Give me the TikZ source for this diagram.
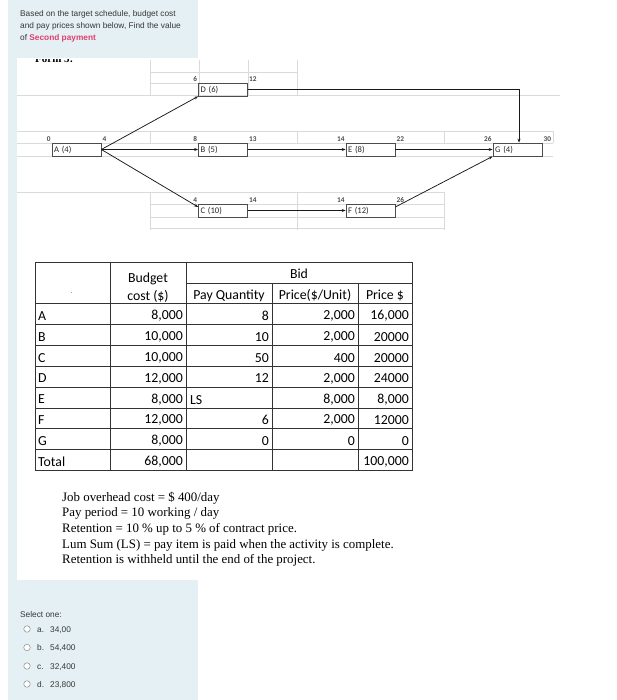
\documentclass[tikz,border=0pt]{standalone}
\usepackage{fontspec}
\setmainfont{Liberation Sans}
\newfontfamily\calib{Carlito}
\newfontfamily\tnr{Liberation Serif}
\usetikzlibrary{arrows.meta,calc}
\definecolor{panel}{RGB}{228,240,243}
\definecolor{qpink}{RGB}{226,62,112}
\definecolor{gridc}{RGB}{218,218,218}
\definecolor{uitext}{RGB}{55,55,55}
\tikzset{
  act/.style={draw=black!70, line width=0.7pt, text width=45pt, inner sep=2pt, minimum height=13pt, align=left, font=\calib\fontsize{8.6}{9}\selectfont, text=black!85},
  num/.style={inner sep=1pt, font=\calib\bfseries\fontsize{7.3}{8}\selectfont, text=black!70},
  link/.style={line width=0.75pt, black!90, -{Stealth[length=4pt,width=3pt]}},
  gline/.style={gridc, line width=0.5pt},
  tline/.style={black!80, line width=0.8pt},
  tcell/.style={inner sep=0pt, font=\calib\fontsize{13.8}{15}\selectfont},
  note/.style={anchor=base west, inner sep=0pt, font=\tnr\fontsize{12.9}{15}\selectfont},
  ui/.style={anchor=base west, inner sep=0pt, font=\fontsize{8.3}{10}\selectfont, text=uitext},
  opt/.style={anchor=base west, inner sep=0pt, font=\fontsize{8.3}{10}\selectfont, text=uitext},
  radio/.style={draw=black!45, line width=0.5pt, fill=white, circle, minimum size=6.5pt, inner sep=0pt}
}
\begin{document}
\begin{tikzpicture}[x=1pt,y={(0pt,-1pt)}]
\useasboundingbox (0,0) rectangle (616,700);
% panel
\fill[panel] (8,0) rectangle (198,700);
\fill[white] (17,58) rectangle (600,580);
% question text
\node[ui] (q1) at (20,16.5) {Based on the target schedule, budget cost};
\node[ui] (q2) at (20,28.5) {and pay prices shown below, Find the value};
\node[ui] (q3) at (20,40.5) {of \textcolor{qpink}{\bfseries Second payment}};
% clipped heading
\begin{scope}
\clip (17,59.3) rectangle (200,70);
\node[anchor=base west, inner sep=0pt, font=\tnr\bfseries\fontsize{11}{13}\selectfont] (form) at (35,62.5) {Form 5:};
\end{scope}
% grid lines
\draw[gline] (150,72) -- (297,72);
\draw[gline] (150,83) -- (198,83);
\draw[gline] (17,95) -- (560,95);
\foreach \x in {150,199,248,297} \draw[gline] (\x,60) -- (\x,95);
\draw[gline] (17,131) -- (553,131);
\draw[gline] (17,143) -- (553,143);
\draw[gline] (17,156) -- (553,156);
\foreach \x in {150,297,444,553} \draw[gline] (\x,131) -- (\x,143);
\draw[gline] (17,192) -- (444,192);
\draw[gline] (150,204) -- (444,204);
\draw[gline] (150,217) -- (444,217);
\foreach \x in {150,297,444} \draw[gline] (\x,192) -- (\x,230);
\draw[gline] (150,228) -- (444,228);
% activities
\node[act] (D) at (223,89.5) {D (6)};
\node[act] (A) at (76.5,149.5) {A (4)};
\node[act] (B) at (223,149.5) {B (5)};
\node[act] (C) at (223,210.5) {C (10)};
\node[act] (E) at (370.5,149.5) {E (8)};
\node[act] (F) at (370.5,210.5) {F (12)};
\node[act] (G) at (517.5,149.5) {G (4)};
% times
\node[num, anchor=south east] (Ds) at (D.north west) {6};
\node[num, anchor=south west] (Df) at (D.north east) {12};
\node[num, anchor=south east] (As) at (A.north west) {0};
\node[num, anchor=south west] (Af) at (A.north east) {4};
\node[num, anchor=south east] (Bs) at (B.north west) {8};
\node[num, anchor=south west] (Bf) at (B.north east) {13};
\node[num, anchor=south east] (Cs) at (C.north west) {4};
\node[num, anchor=south west] (Cf) at (C.north east) {14};
\node[num, anchor=south east] (Es) at (E.north west) {14};
\node[num, anchor=south west] (Ef) at (E.north east) {22};
\node[num, anchor=south east] (Fs) at (F.north west) {14};
\node[num, anchor=south west] (Ff) at (F.north east) {26};
\node[num, anchor=south east] (Gs) at (G.north west) {26};
\node[num, anchor=south west] (Gf) at (G.north east) {30};
% links
\draw[link] (A.east) -- (D.south west);
\draw[link] (A.east) -- (B.west);
\draw[link] (A.east) -- ([yshift=3.5pt]C.west);
\draw[link] (D.east) -| ([xshift=1.5pt]G.north);
\draw[link] (B.east) -- (E.west);
\draw[link] (E.east) -- (G.west);
\draw[link] (C.east) -- (F.west);
\draw[link] ([yshift=3.5pt]F.east) -- (G.south west);
% table
\draw[tline] (35,262) rectangle (412,470);
\draw[tline] (110,262) -- (110,470);
\draw[tline] (186,262) -- (186,470);
\draw[tline] (186,283) -- (412,283);
\draw[tline] (272,283) -- (272,470);
\draw[tline] (358,283) -- (358,470);
\foreach \y in {303,324,345,366,387,408,428,449} \draw[tline] (35,\y) -- (412,\y);
\node[tcell] (h0) at (72,293) {\fontsize{6}{6}\selectfont.};
\node[tcell] (h1a) at (148,279) {Budget};
\node[tcell] (h1b) at (148,296) {cost (\$)};
\node[tcell] (hbid) at (299,274) {Bid};
\node[tcell] (h2) at (229,295.5) {Pay Quantity};
\node[tcell] (h3) at (315,295.5) {Price(\$/Unit)};
\node[tcell] (h4) at (385,295.5) {Price \$};
\foreach \lab/\bud/\qty/\up/\pr [count=\i] in {
  A/8{,}000/8/2{,}000/16{,}000,
  B/10{,}000/10/2{,}000/20000,
  C/10{,}000/50/400/20000,
  D/12{,}000/12/2{,}000/24000,
  E/8{,}000//8{,}000/8{,}000,
  F/12{,}000/6/2{,}000/12000,
  G/8{,}000/0/0/0,
  Total/68{,}000///100{,}000} {
  \pgfmathsetmacro{\yc}{303+20.85*(\i-0.5)+2.5}
  \node[tcell, anchor=west] (r\i c1) at (38,\yc) {\lab};
  \node[tcell, anchor=east] (r\i c2) at (183,\yc) {\bud};
  \node[tcell, anchor=east] (r\i c3) at (269,\yc) {\qty};
  \node[tcell, anchor=east] (r\i c4) at (355,\yc) {\up};
  \node[tcell, anchor=east] (r\i c5) at (409,\yc) {\pr};
}
\node[tcell, anchor=west] (ls) at (190,400) {LS};
% notes
\node[note] (n1) at (62,501) {Job overhead cost = \$ 400/day};
\node[note] (n2) at (62,516.5) {Pay period = 10 working / day};
\node[note] (n3) at (62,532) {Retention = 10 \% up to 5 \% of contract price.};
\node[note] (n4) at (62,548) {Lum Sum (LS) = pay item is paid when the activity is complete.};
\node[note] (n5) at (62,563.5) {Retention is withheld until the end of the project.};
% options
\node[opt] (sel) at (20,617) {Select one:};
\node[radio] (ra) at (27,629) {};
\node[radio] (rb) at (27,647.5) {};
\node[radio] (rc) at (27,666) {};
\node[radio] (rd) at (27,684) {};
\node[opt] (la) at (37,632) {a.};
\node[opt] (lb) at (37,650.5) {b.};
\node[opt] (lc) at (37,669) {c.};
\node[opt] (ld) at (37,687) {d.};
\node[opt] (va) at (50,632) {34,00};
\node[opt] (vb) at (50,650.5) {54,400};
\node[opt] (vc) at (50,669) {32,400};
\node[opt] (vd) at (50,687) {23,800};
\end{tikzpicture}
\end{document}
